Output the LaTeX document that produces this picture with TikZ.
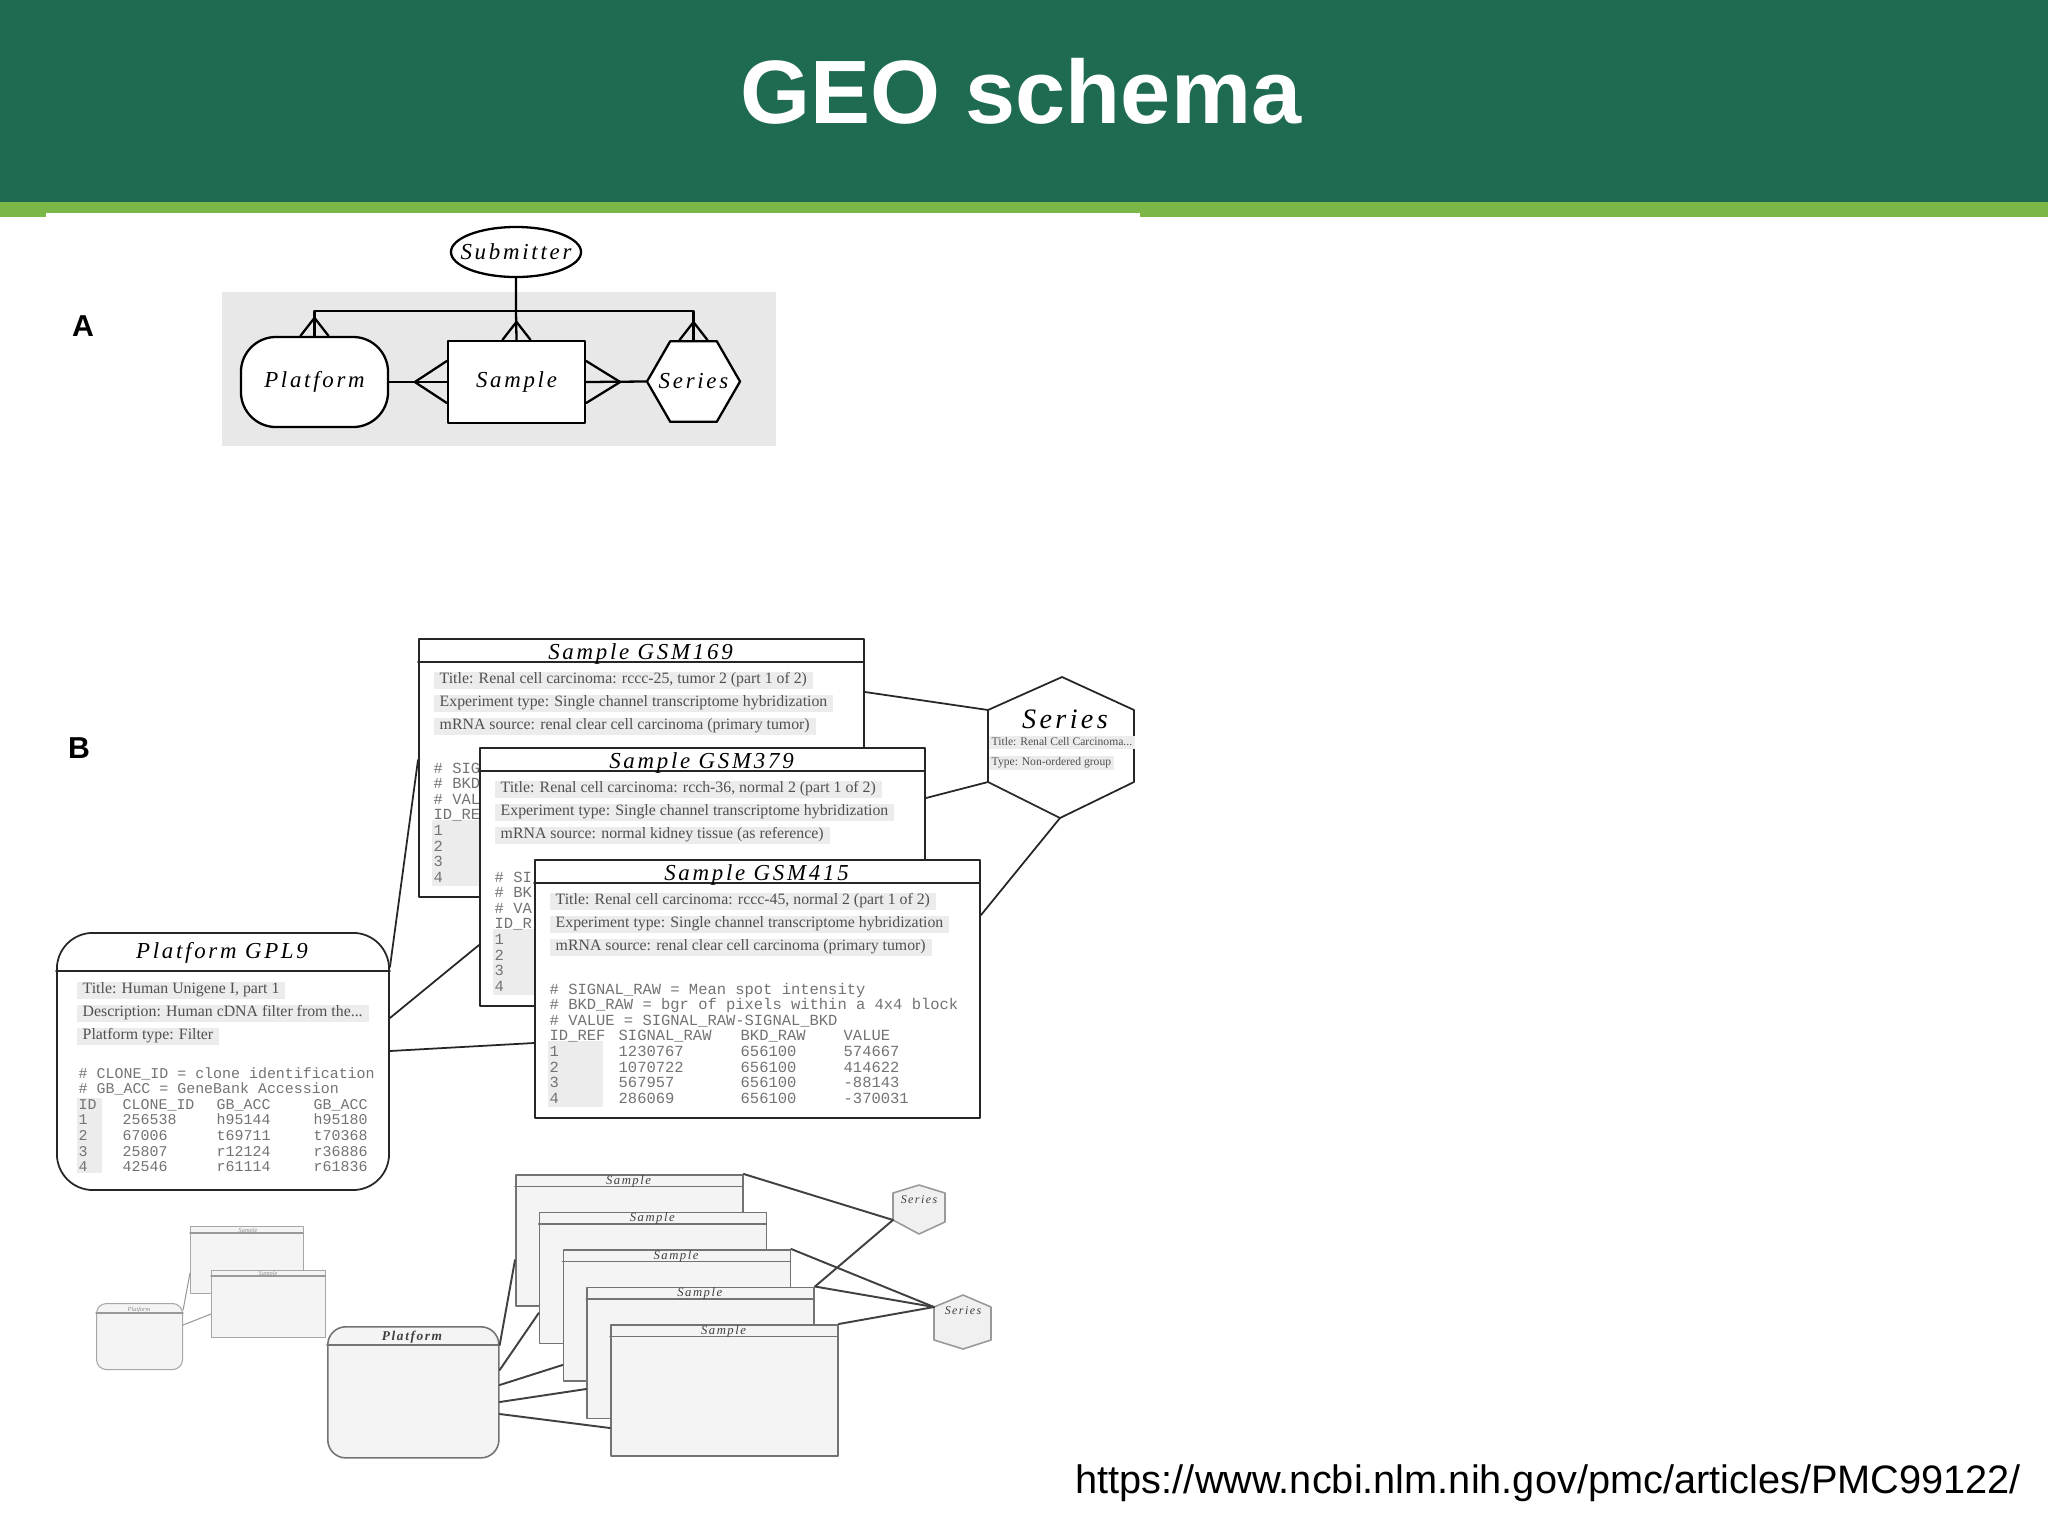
\documentclass[tikz,border=0pt]{standalone}
\usepackage{fontspec}
\setmainfont{Liberation Serif}
\setsansfont{Liberation Sans}
\setmonofont{Liberation Mono}
\newfontfamily\erfont[LetterSpace=12]{Liberation Serif}
\usetikzlibrary{shapes.geometric}
\definecolor{geogreen}{RGB}{31,107,82}
\definecolor{geolime}{RGB}{122,182,72}
\definecolor{panelgray}{RGB}{232,232,232}
\definecolor{rowgray}{RGB}{236,236,236}
\definecolor{inkgray}{RGB}{80,80,80}
\definecolor{lowfill}{RGB}{244,244,244}

\begin{document}
\begin{tikzpicture}[x=0.01cm, y=-0.01cm, line cap=round, line join=round,
    erline/.style={draw=black, line width=0.65pt},
    erbox/.style={erline, fill=white, inner sep=0pt, font=\erfont\itshape\fontsize{6.5}{8}\selectfont},
    boxline/.style={draw=black!85, line width=0.5pt},
    card/.style={boxline, fill=white, anchor=north west, inner sep=0pt, minimum width=4.45cm, minimum height=2.58cm},
    cardtitle/.style={anchor=base, inner sep=0pt, font=\erfont\itshape\fontsize{6.5}{8}\selectfont},
    inforow/.style={anchor=west, fill=rowgray, inner xsep=0.06cm, inner ysep=0.02cm, text height=0.10cm, text depth=0.03cm, text=inkgray, font=\fontsize{4.5}{5.4}\selectfont},
    mono/.style={anchor=base west, inner sep=0pt, text=black!55, font=\ttfamily\fontsize{4.4}{4.4}\selectfont},
    link/.style={draw=black!85, line width=0.5pt},
    lowcard/.style={draw=black!55, line width=0.45pt, fill=lowfill, anchor=north west, inner sep=0pt, minimum width=2.27cm, minimum height=1.31cm},
    lowline/.style={draw=black!55, line width=0.45pt},
    lowlabel/.style={anchor=base, inner sep=0pt, text=black!75, font=\erfont\itshape\fontsize{3.6}{4}\selectfont},
    lowhex/.style={draw=black!40, line width=0.45pt, fill=black!6},
    lowlink/.style={draw=black!75, line width=0.55pt},
    tinycard/.style={draw=black!35, line width=0.3pt, fill=lowfill, anchor=north west, inner sep=0pt},
    tinylabel/.style={anchor=base, inner sep=0pt, text=black!45, font=\itshape\fontsize{1.8}{2}\selectfont},
    tinylink/.style={draw=black!40, line width=0.3pt}]

  % slide frame
  \useasboundingbox (0,0) rectangle (2048,1536);
  \fill[geogreen] (0,0) rectangle (2048,202);
  \fill[geolime] (0,202) rectangle (2048,217);
  \fill[white] (46,213) rectangle (1140,219);
  \node[anchor=base, inner sep=0pt, text=white, font=\sffamily\bfseries\fontsize{25.6}{30}\selectfont] (title) at (1021,123) {GEO schema};
  \node[anchor=base west, inner sep=0pt, font=\sffamily\fontsize{11.3}{13}\selectfont] (url) at (1075,1493) {https://www.ncbi.nlm.nih.gov/pmc/articles/PMC99122/};
  \node[inner sep=0pt, font=\sffamily\bfseries\fontsize{8.6}{10}\selectfont] (labA) at (83,326) {A};
  \node[inner sep=0pt, font=\sffamily\bfseries\fontsize{8.6}{10}\selectfont] (labB) at (79,748) {B};

  % panel A: entity diagram
  \fill[panelgray] (222,292) rectangle (776,446);
  \node[erline, ellipse, fill=white, minimum width=1.30cm, minimum height=0.50cm, inner sep=0pt] (submitter) at (516,252) {};
  \node[inner sep=0pt, font=\erfont\itshape\fontsize{6.5}{8}\selectfont] (submitter-t) at (submitter) {Submitter};
  \node[erbox, rounded corners=0.35cm, minimum width=1.47cm, minimum height=0.90cm] (platform) at (314.5,382) {Platform};
  \node[erbox, minimum width=1.37cm, minimum height=0.82cm] (sample) at (516.5,382) {Sample};
  \node[erbox, regular polygon, regular polygon sides=6, minimum size=0.93cm] (series) at (693.5,381.5) {};
  \node[inner sep=0pt, font=\erfont\itshape\fontsize{6.5}{8}\selectfont] (series-t) at (series) {Series};
  \coordinate (bus) at (516,311);
  \draw[erline] (submitter.south) -- (bus) -- (sample.north);
  \draw[erline] (platform.north) -- (platform.north |- bus) -- (series.north |- bus) -- (series.north);
  \foreach \ent in {platform,sample,series}
    \draw[erline] (\ent.north) ++(-14,0) -- ++(14,-18) -- ++(14,18);
  \draw[erline] (platform.east) -- (sample.west);
  \draw[erline] (sample.west) ++(0,-21) -- ++(-32,21) -- ++(32,21);
  \draw[erline] (sample.east) -- (series.west);
  \draw[erline] (sample.east) ++(0,-21) -- ++(34,21) -- ++(-34,21);

  % panel B: sample cards, each one partly hidden by the next
  \foreach \card/\x/\y/\ctitle/\rowa/\rowb/\rowc/\notes in {
      gsm169/418/638/{Sample GSM169}/{Title: Renal cell carcinoma: rccc-25, tumor 2 (part 1 of 2)}/{Experiment type: Single channel transcriptome hybridization}/{mRNA source: renal clear cell carcinoma (primary tumor)}/{\# SIG, \# BKD, \# VAL, ID\_RE, 1, 2, 3, 4},
      gsm379/479/747/{Sample GSM379}/{Title: Renal cell carcinoma: rcch-36, normal 2 (part 1 of 2)}/{Experiment type: Single channel transcriptome hybridization}/{mRNA source: normal kidney tissue (as reference)}/{\# SI, \# BK, \# VA, ID\_R, 1, 2, 3, 4},
      gsm415/534/859/{Sample GSM415}/{Title: Renal cell carcinoma: rccc-45, normal 2 (part 1 of 2)}/{Experiment type: Single channel transcriptome hybridization}/{mRNA source: renal clear cell carcinoma (primary tumor)}/{\# SIGNAL\_RAW = Mean spot intensity, \# BKD\_RAW = bgr of pixels within a 4x4 block, \# VALUE = SIGNAL\_RAW-SIGNAL\_BKD, ID\_REF, 1, 2, 3, 4}} {
    \node[card] (\card) at (\x,\y) {};
    \draw[boxline] (\card.north west) ++(0,24) -- ++(445,0);
    \node[cardtitle] (\card-t) at (\x+222.5,\y+21) {\ctitle};
    \node[inforow] (\card-r1) at (\x+15,\y+42) {\rowa};
    \node[inforow] (\card-r2) at (\x+15,\y+65) {\rowb};
    \node[inforow] (\card-r3) at (\x+15,\y+88) {\rowc};
    \fill[rowgray] (\x+14,\y+182) rectangle (\x+69,\y+248);
    \foreach \t [count=\i from 0] in \notes
      \node[mono] (\card-m\i) at (\x+15,\y+135+15.6*\i) {\t};
  }
  \foreach \a/\b/\c [count=\i from 3] in {SIGNAL\_RAW/BKD\_RAW/VALUE, 1230767/656100/574667, 1070722/656100/414622, 567957/656100/-88143, 286069/656100/-370031} {
    \node[mono] (gsm415-a\i) at (618,994+15.6*\i) {\a};
    \node[mono] (gsm415-b\i) at (740,994+15.6*\i) {\b};
    \node[mono] (gsm415-c\i) at (843,994+15.6*\i) {\c};
  }

  % panel B: platform card
  \node[boxline, fill=white, anchor=north west, inner sep=0pt, rounded corners=0.36cm, minimum width=3.32cm, minimum height=2.57cm] (gpl9) at (56,932) {};
  \draw[boxline] (gpl9.west |- 0,971) -- (gpl9.east |- 0,971);
  \node[cardtitle] (gpl9-t) at (222,958) {Platform GPL9};
  \node[inforow] (gpl9-r1) at (76,990) {Title: Human Unigene I, part 1};
  \node[inforow] (gpl9-r2) at (76,1013) {Description: Human cDNA filter from the...};
  \node[inforow] (gpl9-r3) at (76,1036) {Platform type: Filter};
  \fill[rowgray] (77,1098) rectangle (102,1173);
  \node[mono, font=\ttfamily\fontsize{4.25}{4.4}\selectfont] (gpl9-m0) at (78,1078) {\# CLONE\_ID = clone identification};
  \node[mono, font=\ttfamily\fontsize{4.25}{4.4}\selectfont] (gpl9-m1) at (78,1093.6) {\# GB\_ACC = GeneBank Accession};
  \foreach \r/\a/\b/\c [count=\i from 2] in {ID/CLONE\_ID/GB\_ACC/GB\_ACC, 1/256538/h95144/h95180, 2/67006/t69711/t70368, 3/25807/r12124/r36886, 4/42546/r61114/r61836} {
    \node[mono, font=\ttfamily\fontsize{4.25}{4.4}\selectfont] (gpl9-id\i) at (78,1078+15.6*\i) {\r};
    \node[mono, font=\ttfamily\fontsize{4.25}{4.4}\selectfont] (gpl9-a\i) at (122,1078+15.6*\i) {\a};
    \node[mono, font=\ttfamily\fontsize{4.25}{4.4}\selectfont] (gpl9-b\i) at (216,1078+15.6*\i) {\b};
    \node[mono, font=\ttfamily\fontsize{4.25}{4.4}\selectfont] (gpl9-c\i) at (313,1078+15.6*\i) {\c};
  }

  % panel B: series
  \coordinate (bser-n) at (1062,677);
  \coordinate (bser-ne) at (1134,710);
  \coordinate (bser-se) at (1134,782);
  \coordinate (bser-s) at (1060,818);
  \coordinate (bser-sw) at (988,782);
  \coordinate (bser-nw) at (988,710);
  \draw[boxline, fill=white] (bser-n) -- (bser-ne) -- (bser-se) -- (bser-s) -- (bser-sw) -- (bser-nw) -- cycle;
  \node[cardtitle, font=\erfont\itshape\fontsize{8}{9}\selectfont] (bser-t) at (1065,728) {Series};
  \node[inforow, inner xsep=0.03cm, text height=0.075cm, text depth=0.02cm, font=\fontsize{3.3}{4}\selectfont] (bser-r1) at (988,742.5) {Title: Renal Cell Carcinoma...};
  \node[inforow, inner xsep=0.03cm, text height=0.075cm, text depth=0.02cm, font=\fontsize{3.3}{4}\selectfont] (bser-r2) at (988,763) {Type: Non-ordered group};

  % panel B: links
  \draw[link] (gsm169.east |- 0,692) -- (bser-nw);
  \draw[link] (gsm379.east |- 0,798) -- (bser-sw);
  \draw[link] (gsm415.east |- 0,915) -- (bser-s);
  \draw[link] (gpl9.east |- 0,967) -- (gsm169.west |- 0,760);
  \draw[link] (gpl9.east |- 0,1018) -- (gsm379.west |- 0,945);
  \draw[link] (gpl9.east |- 0,1051) -- (gsm415.west |- 0,1043);

  % thumbnail: one platform, two samples
  \node[tinycard, minimum width=1.13cm, minimum height=0.67cm] (tsam1) at (190,1226) {};
  \draw[tinylink] (tsam1.north west) ++(0,7) -- ++(113,0);
  \node[tinylabel] (tsam1-t) at (248,1232) {Sample};
  \node[tinycard, minimum width=1.14cm, minimum height=0.67cm] (tsam2) at (211,1270) {};
  \draw[tinylink] (tsam2.north west) ++(0,6) -- ++(114,0);
  \node[tinylabel] (tsam2-t) at (268,1275) {Sample};
  \node[tinycard, rounded corners=0.1cm, minimum width=0.86cm, minimum height=0.66cm] (tplat) at (96,1303) {};
  \draw[tinylink] (tplat.west |- 0,1313) -- (tplat.east |- 0,1313);
  \node[tinylabel] (tplat-t) at (139,1311) {Platform};
  \draw[tinylink] (tplat.east |- 0,1310) -- (tsam1.west |- 0,1273);
  \draw[tinylink] (tplat.east |- 0,1325) -- (tsam2.west |- 0,1314);

  % overview: platform, five samples, two series
  \node[lowcard, rounded corners=0.18cm, minimum width=1.71cm, minimum height=1.31cm] (lplat) at (327,1326) {};
  \draw[lowline] (lplat.west |- 0,1345) -- (lplat.east |- 0,1345);
  \node[lowlabel, font=\erfont\bfseries\itshape\fontsize{3.8}{4}\selectfont] (lplat-t) at (412,1340) {Platform};
  \foreach \k in {1,...,5} {
    \node[lowcard] (lsam\k) at ({515+23.75*(\k-1)},{1174+37.5*(\k-1)}) {};
    \draw[lowline] (lsam\k.north west) ++(0,12.5) -- ++(227,0);
    \node[lowlabel] (lsam\k-t) at ({628.5+23.75*(\k-1)},{1184+37.5*(\k-1)}) {Sample};
  }
  \coordinate (ser1-n) at (919,1185);
  \coordinate (ser1-ne) at (945,1193);
  \coordinate (ser1-se) at (945,1222);
  \coordinate (ser1-s) at (919,1234);
  \coordinate (ser1-sw) at (893,1220);
  \coordinate (ser1-nw) at (893,1193);
  \draw[lowhex] (ser1-n) -- (ser1-ne) -- (ser1-se) -- (ser1-s) -- (ser1-sw) -- (ser1-nw) -- cycle;
  \node[lowlabel, font=\erfont\itshape\fontsize{3.4}{4}\selectfont] (ser1-t) at (919,1203) {Series};
  \coordinate (ser2-n) at (963,1295);
  \coordinate (ser2-ne) at (991,1307);
  \coordinate (ser2-se) at (991,1340);
  \coordinate (ser2-s) at (963,1349);
  \coordinate (ser2-sw) at (934,1340);
  \coordinate (ser2-nw) at (934,1307);
  \draw[lowhex] (ser2-n) -- (ser2-ne) -- (ser2-se) -- (ser2-s) -- (ser2-sw) -- (ser2-nw) -- cycle;
  \node[lowlabel, font=\erfont\itshape\fontsize{3.4}{4}\selectfont] (ser2-t) at (963,1314) {Series};
  \draw[lowlink] (lplat.east |- 0,1345) -- (lsam1.west |- 0,1260);
  \draw[lowlink] (lplat.east |- 0,1370) -- (lsam2.west |- 0,1313);
  \draw[lowlink] (lplat.east |- 0,1385) -- (lsam3.west |- 0,1365);
  \draw[lowlink] (lplat.east |- 0,1402) -- (lsam4.west |- 0,1389);
  \draw[lowlink] (lplat.east |- 0,1414) -- (lsam5.west |- 0,1428);
  \draw[lowlink] (lsam1.north east) -- (ser1-sw);
  \draw[lowlink] (lsam4.north east) -- (ser1-sw);
  \draw[lowlink] (lsam3.north east) -- (ser2-nw);
  \draw[lowlink] (lsam4.north east) -- (ser2-nw);
  \draw[lowlink] (lsam5.north east) -- (ser2-nw);
\end{tikzpicture}
\end{document}
